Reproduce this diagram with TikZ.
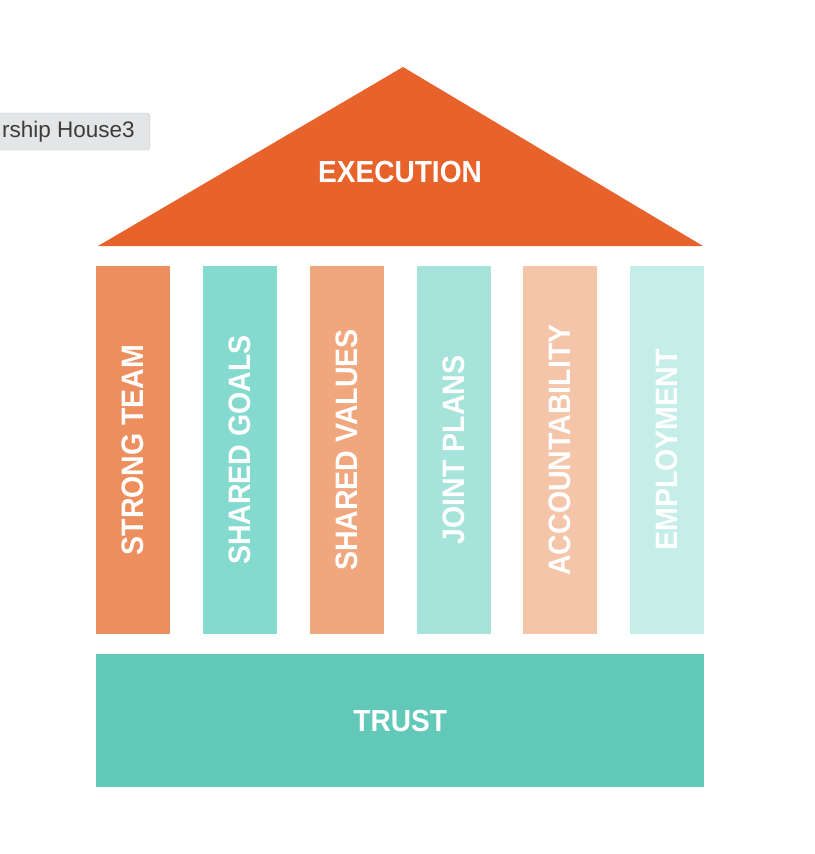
\documentclass[tikz,border=0pt]{standalone}
\usepackage{fontspec}
\setmainfont{Liberation Sans}
\newfontfamily\pillarfont{Liberation Sans}[FakeStretch=0.92]
\usetikzlibrary{positioning}
\definecolor{rooffill}{HTML}{E8622C}
\definecolor{teamfill}{HTML}{EC8E5E}
\definecolor{goalsfill}{HTML}{85DACF}
\definecolor{valuesfill}{HTML}{F0A77D}
\definecolor{plansfill}{HTML}{A6E4DB}
\definecolor{accountfill}{HTML}{F4C5A9}
\definecolor{employfill}{HTML}{C5EEE8}
\definecolor{trustfill}{HTML}{62C9B9}
\definecolor{tipfill}{HTML}{E3E5E6}
\definecolor{tipline}{HTML}{C9CBCC}
\definecolor{tiptext}{HTML}{3C3C3C}
\tikzset{
  bigtext/.style  = {text=white, font=\pillarfont\bfseries\fontsize{30.5}{36}\selectfont},
  pillar/.style   = {rotate=90, inner sep=0pt, minimum width=368pt,
                     minimum height=74pt, bigtext, font=\pillarfont\bfseries\fontsize{31}{36}\selectfont},
  base/.style     = {inner sep=0pt, minimum width=608pt, minimum height=133pt,
                     fill=trustfill, bigtext},
  tip/.style      = {draw=tipline, fill=tipfill, rounded corners=3pt, text=tiptext,
                     inner xsep=15pt, minimum height=37pt,
                     font=\fontsize{22.5}{26}\selectfont},
}
\begin{document}
\begin{tikzpicture}[x=1pt, y=-1pt]
\useasboundingbox (0,0) rectangle (814,854);

%% --- roof --------------------------------------------------------------
\coordinate (apex)   at (403,67);
\coordinate (eaveL)  at (98,246);
\coordinate (eaveR)  at (703,246);
\fill[rooffill] (eaveL) -- (apex) -- (eaveR) -- cycle;
\node[bigtext] (exec) at (400,172) {EXECUTION};

%% --- pillars -----------------------------------------------------------
\node[pillar, fill=teamfill]    (team)    at (133,450) {STRONG TEAM};
\node[pillar, fill=goalsfill]   (goals)   at (240,450) {SHARED GOALS};
\node[pillar, fill=valuesfill]  (values)  at (347,450) {SHARED VALUES};
\node[pillar, fill=plansfill]   (plans)   at (454,450) {JOINT PLANS};
\node[pillar, fill=accountfill] (account) at (560,450) {ACCOUNTABILITY};
\node[pillar, fill=employfill]  (employ)  at (667,450) {EMPLOYMENT};

%% --- foundation --------------------------------------------------------
\node[base, anchor=north west] (trust) at (96,654) {TRUST};

%% --- tooltip -----------------------------------------------------------
\node[tip, anchor=east] (tooltip) at (150,131.5) {rship House3};

\end{tikzpicture}
\end{document}
